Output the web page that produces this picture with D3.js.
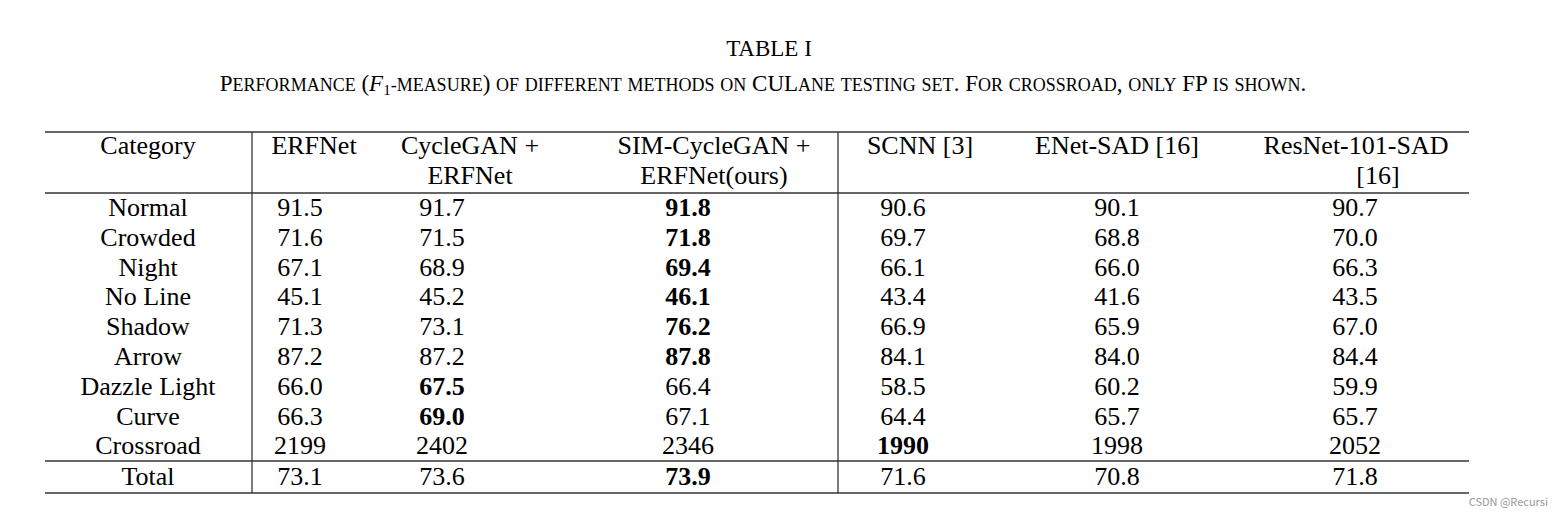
<!DOCTYPE html>
<html><head><meta charset="utf-8">
<script src="https://cdn.jsdelivr.net/npm/d3@7"></script>
<style>body{margin:0;background:#fff}</style>
</head><body>
<script>
var categories = ["Normal","Crowded","Night","No Line","Shadow","Arrow","Dazzle Light","Curve","Crossroad"];
var erfnet   = ["91.5","71.6","67.1","45.1","71.3","87.2","66.0","66.3","2199"];
var cyclegan = ["91.7","71.5","68.9","45.2","73.1","87.2","67.5","69.0","2402"];
var simcycle = ["91.8","71.8","69.4","46.1","76.2","87.8","66.4","67.1","2346"];
var scnn     = ["90.6","69.7","66.1","43.4","66.9","84.1","58.5","64.4","1990"];
var enetsad  = ["90.1","68.8","66.0","41.6","65.9","84.0","60.2","65.7","1998"];
var resnet   = ["90.7","70.0","66.3","43.5","67.0","84.4","59.9","65.7","2052"];
var totals   = ["73.1","73.6","73.9","71.6","70.8","71.8"];
// index of bold column per row (0 = ERFNet)
var boldCol  = [2,2,2,2,2,2,1,1,3];
var boldTotal = 2;
var headers = [["Category"],["ERFNet"],["CycleGAN +","ERFNet"],["SIM-CycleGAN +","ERFNet(ours)"],["SCNN [3]"],["ENet-SAD [16]"],["ResNet-101-SAD","[16]"]];

var W = 1559, H = 517;
var svg = d3.select("body").append("svg").attr("width", W).attr("height", H)
  .style("font-family", "'Liberation Serif','Times New Roman',serif").style("fill", "#000");

svg.append("text").attr("x", 769).attr("y", 56).attr("text-anchor", "middle")
  .attr("font-size", 23).text("TABLE I");

// manual small caps: capitals big, lowercase uppercased and smaller
var cap = svg.append("text").attr("x", 763).attr("y", 91).attr("text-anchor", "middle");
function smallCaps(str) {
  var runs = str.match(/[a-z]+|[^a-z]+/g);
  runs.forEach(function (r) {
    var low = /^[a-z]/.test(r);
    cap.append("tspan").attr("font-size", low ? 18 : 23).text(low ? r.toUpperCase() : r);
  });
}
smallCaps("Performance (");
cap.append("tspan").attr("font-size", 23).attr("font-style", "italic").text("F");
cap.append("tspan").attr("font-size", 15).attr("dy", 4).text("1");
cap.append("tspan").attr("dy", -4).attr("font-size", 18).text("-");
smallCaps("measure) of different methods on CULane testing set. For crossroad, only FP is shown.");

var colX = [148, 300, 442, 688, 903, 1117, 1355];
var headX = [148, 314, 470, 714, 920, 1117, 1356];
var headX2 = [148, 314, 470, 714, 920, 1117, 1378];
var y = d3.scaleBand().domain(d3.range(categories.length + 1).map(String)).range([193, 491]);
function rowY(i) { return y(String(i)) + y.bandwidth() / 2 + (i === categories.length ? 1 : 0) + 8; }

var cols = [erfnet, cyclegan, simcycle, scnn, enetsad, resnet];
var fs = 26;

headers.forEach(function (h, c) {
  h.forEach(function (line, k) {
    svg.append("text").attr("x", k === 0 ? headX[c] : headX2[c]).attr("y", 154 + k * 30)
      .attr("text-anchor", "middle").attr("font-size", fs).text(line);
  });
});

categories.forEach(function (cat, i) {
  var yy = rowY(i);
  svg.append("text").attr("x", colX[0]).attr("y", yy).attr("text-anchor", "middle")
    .attr("font-size", fs).text(cat);
  cols.forEach(function (col, c) {
    svg.append("text").attr("x", colX[c + 1]).attr("y", yy).attr("text-anchor", "middle")
      .attr("font-size", fs).attr("font-weight", boldCol[i] === c ? "bold" : "normal").text(col[i]);
  });
});
var ty = rowY(categories.length);
svg.append("text").attr("x", colX[0]).attr("y", ty).attr("text-anchor", "middle").attr("font-size", fs).text("Total");
totals.forEach(function (v, c) {
  svg.append("text").attr("x", colX[c + 1]).attr("y", ty).attr("text-anchor", "middle")
    .attr("font-size", fs).attr("font-weight", boldTotal === c ? "bold" : "normal").text(v);
});

var ln = function (x1, y1, x2, y2) {
  svg.append("line").attr("x1", x1).attr("y1", y1).attr("x2", x2).attr("y2", y2)
    .attr("stroke", "#333").attr("stroke-width", 1.3);
};
ln(45, 132, 1469, 132);
ln(45, 193, 1469, 193);
ln(45, 461, 1469, 461);
ln(45, 493, 1469, 493);
ln(252, 132, 252, 493);
ln(838, 132, 838, 493);

svg.append("text").attr("x", 1548).attr("y", 506).attr("text-anchor", "end")
  .attr("font-size", 11).style("font-family", "'Noto Sans CJK SC',sans-serif").attr("fill", "#999").text("CSDN @Recursi");
</script>
</body></html>
